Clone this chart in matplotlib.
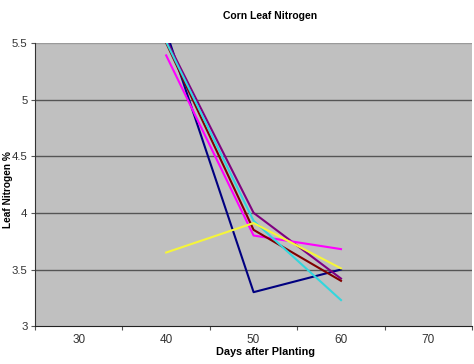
import matplotlib.pyplot as plt

plt.rcParams["font.family"] = ["Liberation Sans", "DejaVu Sans"]

# Days after planting (sampling dates) and leaf N % per treatment
days = [40, 50, 60]
navy = [5.60, 3.30, 3.50]
purple = [5.53, 4.00, 3.42]
magenta = [5.39, 3.80, 3.68]
maroon = [5.50, 3.85, 3.40]
cyan = [5.51, 3.93, 3.23]
yellow = [3.65, 3.91, 3.51]

x_labels = [30, 40, 50, 60, 70]
y_ticks = [3, 3.5, 4, 4.5, 5, 5.5]
y_labels = ["3", "3.5", "4", "4.5", "5", "5.5"]

series = [
    (navy, "#000080"),
    (purple, "#800080"),
    (magenta, "#FF00FF"),
    (maroon, "#800000"),
    (cyan, "#33D6DD"),
    (yellow, "#F5F53A"),
]

fig = plt.figure(figsize=(4.74, 3.64), dpi=100)
ax = fig.add_axes([0.074, 0.104, 0.922, 0.778])
ax.set_facecolor("#C0C0C0")

for vals, col in series:
    ax.plot(days, vals, color=col, linewidth=1.5)

ax.set_xlim(25, 75)
ax.set_ylim(3, 5.5)

# category-style x axis: tick marks between categories, labels centred
ax.set_xticks([25, 35, 45, 55, 65, 75])
ax.set_xticklabels([])
ax.set_xticks(x_labels, minor=True)
ax.set_xticklabels([str(v) for v in x_labels], minor=True)
ax.tick_params(axis="x", which="major", direction="out", length=3, width=0.8, color="#555555")
ax.tick_params(axis="x", which="minor", length=0, pad=6, labelsize=8.5, labelcolor="#333333")

ax.set_yticks(y_ticks)
ax.set_yticklabels(y_labels)
ax.tick_params(axis="y", direction="out", length=3, width=0.8, color="#555555",
               labelsize=8.2, labelcolor="#333333", pad=2.5)

for v in [3.5, 4, 4.5, 5]:
    ax.axhline(v, color="#555555", linewidth=1.0, zorder=0.5)
ax.axhline(5.5, color="#9A9A9A", linewidth=1.0, zorder=0.5)

ax.spines["top"].set_visible(False)
ax.spines["right"].set_visible(False)
ax.spines["left"].set_color("#333333")
ax.spines["bottom"].set_color("#222222")

fig.text(0.57, 0.955, "Corn Leaf Nitrogen", ha="center", va="center",
         fontsize=7.5, fontweight="bold")
fig.text(0.56, 0.033, "Days after Planting", ha="center", va="center",
         fontsize=7.8, fontweight="bold")
fig.text(0.017, 0.48, "Leaf Nitrogen %", ha="center", va="center", rotation=90,
         fontsize=7.3, fontweight="bold")

fig.savefig("out.png", dpi=100)
